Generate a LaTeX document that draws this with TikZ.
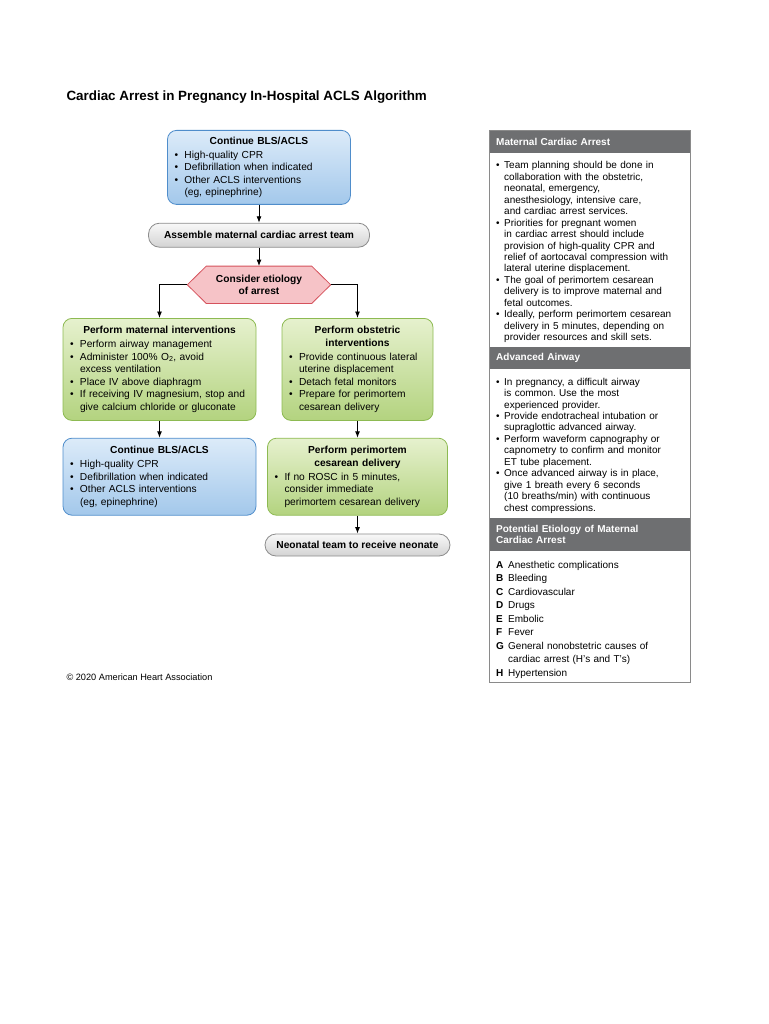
\documentclass[tikz,border=0pt]{standalone}
\usepackage{fontspec}
\setmainfont{Liberation Sans}
\usetikzlibrary{arrows.meta, positioning, calc, backgrounds}

\definecolor{blstop}{HTML}{DCEBF9}
\definecolor{blsbot}{HTML}{A3C8EB}
\definecolor{blsline}{HTML}{4F8DCB}
\definecolor{grntop}{HTML}{E6F1CE}
\definecolor{grnbot}{HTML}{B3D37F}
\definecolor{grnline}{HTML}{8DBA52}
\definecolor{pilltop}{HTML}{F8F8F8}
\definecolor{pillbot}{HTML}{D3D3D3}
\definecolor{pillline}{HTML}{8C8C8C}
\definecolor{hexfillcol}{HTML}{F6C3C7}
\definecolor{hexlinecol}{HTML}{D5525C}
\definecolor{headgray}{HTML}{6E6F71}
\definecolor{panelgray}{HTML}{8A8A8A}

\newcommand{\boxfont}{\fontsize{10.2}{12.5}\selectfont}
\newcommand{\panelfont}{\fontsize{10}{11.45}\selectfont}
\newcommand{\nl}{\hfil\break}
\newcommand{\boxtitle}[1]{{\centering\bfseries #1\par}\vspace{1.5pt}}
\newcommand{\bitem}[1]{\par\hangindent=10pt\hangafter=1\noindent\hbox to 10pt{\textbullet\hss}#1\par}
\newcommand{\pitem}[1]{\par\hangindent=8pt\hangafter=1\noindent\hbox to 8pt{\textbullet\hss}#1\par}
\newcommand{\litem}[2]{\par\hangindent=12pt\hangafter=1\noindent\hbox to 12pt{\bfseries #1\hss}#2\par}
\frenchspacing

\begin{document}
\begin{tikzpicture}[x=1pt, y=1pt,
    arrow/.style={-{Latex[length=6.5pt,width=5pt]}, line width=0.9pt},
    bluebox/.style={rectangle, rounded corners=9pt, draw=blsline, line width=0.8pt, top color=blstop, bottom color=blsbot, align=left, inner xsep=7pt, inner ysep=3pt, font=\boxfont},
    greenbox/.style={rectangle, rounded corners=9pt, draw=grnline, line width=0.8pt, top color=grntop, bottom color=grnbot, align=left, inner xsep=7pt, inner ysep=3pt, font=\boxfont},
    pillbox/.style={rectangle, rounded corners=11pt, draw=pillline, line width=0.8pt, top color=pilltop, bottom color=pillbot, inner sep=0pt, font=\boxfont\bfseries},
    etiobox/.style={minimum width=143pt, minimum height=37pt, inner sep=0pt, align=center, font=\boxfont\bfseries},
    hexagon/.style={draw=hexlinecol, fill=hexfillcol, line width=0.8pt},
    panelhead/.style={rectangle, fill=headgray, text=white, minimum width=201pt, text width=187pt, inner xsep=7pt, inner ysep=0pt, align=left, font=\panelfont\bfseries},
    panelbody/.style={rectangle, minimum width=201pt, text width=187pt, inner xsep=7pt, inner ysep=0pt, align=left, font=\panelfont}
]
\useasboundingbox (0,0) rectangle (768,-1024);

\node[anchor=west, font=\fontsize{13.4}{16}\selectfont\bfseries] (title) at (63,-97) {Cardiac Arrest in Pregnancy In-Hospital ACLS Algorithm};

% main column
\node[bluebox, anchor=north, minimum width=183pt, text width=169pt, minimum height=74pt] (bls1) at (259,-130)
  {\boxtitle{Continue BLS/ACLS}\bitem{High-quality CPR}\bitem{Defibrillation when indicated}\bitem{Other ACLS interventions\nl(eg, epinephrine)}};
\node[pillbox, below=18pt of bls1, minimum width=221pt, minimum height=24pt] (team) {Assemble maternal cardiac arrest team};
\node[etiobox, below=18.5pt of team] (etio) {Consider etiology\\of arrest};
\begin{scope}[on background layer]
  \draw[hexagon] (etio.west) -- ([xshift=19pt]etio.north west) -- ([xshift=-19pt]etio.north east) -- (etio.east)
    -- ([xshift=-19pt]etio.south east) -- ([xshift=19pt]etio.south west) -- cycle;
\end{scope}

% two branches
\node[greenbox, anchor=north, minimum width=193pt, text width=179pt, minimum height=102pt] (mat) at (159.5,-318)
  {\boxtitle{Perform maternal interventions}\bitem{Perform airway management}\bitem{Administer 100\% O\textsubscript{2}, avoid\nl excess ventilation}\bitem{Place IV above diaphragm}\bitem{If receiving IV magnesium, stop and\nl give calcium chloride or gluconate}};
\node[greenbox, anchor=north, minimum width=151pt, text width=137pt, minimum height=102pt] (obs) at (357.5,-318)
  {\boxtitle{Perform obstetric\\interventions}\bitem{Provide continuous lateral\nl uterine displacement}\bitem{Detach fetal monitors}\bitem{Prepare for perimortem\nl cesarean delivery}};
\node[bluebox, below=17pt of mat, minimum width=193pt, text width=179pt, minimum height=77pt] (bls2)
  {\boxtitle{Continue BLS/ACLS}\bitem{High-quality CPR}\bitem{Defibrillation when indicated}\bitem{Other ACLS interventions\nl(eg, epinephrine)}};
\node[greenbox, below=17pt of obs, minimum width=180pt, text width=166pt, minimum height=77pt] (ces)
  {\boxtitle{Perform perimortem\\cesarean delivery}\bitem{If no ROSC in 5 minutes,\nl consider immediate\nl perimortem cesarean delivery}};
\node[pillbox, below=18pt of ces, minimum width=185pt, minimum height=22pt] (neo) {Neonatal team to receive neonate};

\draw[arrow] (bls1) -- (team);
\draw[arrow] (team) -- (etio);
\draw[arrow] (etio.west) -| (mat);
\draw[arrow] (etio.east) -| (obs);
\draw[arrow] (mat) -- (bls2);
\draw[arrow] (obs) -- (ces);
\draw[arrow] (ces) -- (neo);

\node[anchor=west, font=\fontsize{9.2}{11}\selectfont] (copy) at (63,-677) {\textcopyright{} 2020 American Heart Association};

% side panel
\node[panelhead, anchor=north west, minimum height=23pt] (head1) at (489,-130) {Maternal Cardiac Arrest};
\node[panelbody, below=0pt of head1, minimum height=193pt] (body1)
  {\pitem{Team planning should be done in\nl collaboration with the obstetric,\nl neonatal, emergency,\nl anesthesiology, intensive care,\nl and cardiac arrest services.}%
   \pitem{Priorities for pregnant women\nl in cardiac arrest should include\nl provision of high-quality CPR and\nl relief of aortocaval compression with\nl lateral uterine displacement.}%
   \pitem{The goal of perimortem cesarean\nl delivery is to improve maternal and\nl fetal outcomes.}%
   \pitem{Ideally, perform perimortem cesarean\nl delivery in 5 minutes, depending on\nl provider resources and skill sets.}};
\node[panelhead, below=0pt of body1, minimum height=22pt] (head2) {Advanced Airway};
\node[panelbody, below=0pt of head2, minimum height=148pt] (body2)
  {\pitem{In pregnancy, a difficult airway\nl is common. Use the most\nl experienced provider.}%
   \pitem{Provide endotracheal intubation or\nl supraglottic advanced airway.}%
   \pitem{Perform waveform capnography or\nl capnometry to confirm and monitor\nl ET tube placement.}%
   \pitem{Once advanced airway is in place,\nl give 1 breath every 6 seconds\nl(10 breaths/min) with continuous\nl chest compressions.}\vspace{6pt}};
\node[panelhead, below=0pt of body2, minimum height=33pt] (head3) {Potential Etiology of Maternal\\Cardiac Arrest};
\node[panelbody, below=0pt of head3, minimum height=131pt, font=\fontsize{10}{13.5}\selectfont] (body3)
  {\litem{A}{Anesthetic complications}\litem{B}{Bleeding}\litem{C}{Cardiovascular}\litem{D}{Drugs}%
   \litem{E}{Embolic}\litem{F}{Fever}\litem{G}{General nonobstetric causes of\nl cardiac arrest (H's and T's)}\litem{H}{Hypertension}\vspace{6pt}};
\draw[panelgray, line width=0.9pt] (head1.north west) rectangle (body3.south east);

\end{tikzpicture}
\end{document}
